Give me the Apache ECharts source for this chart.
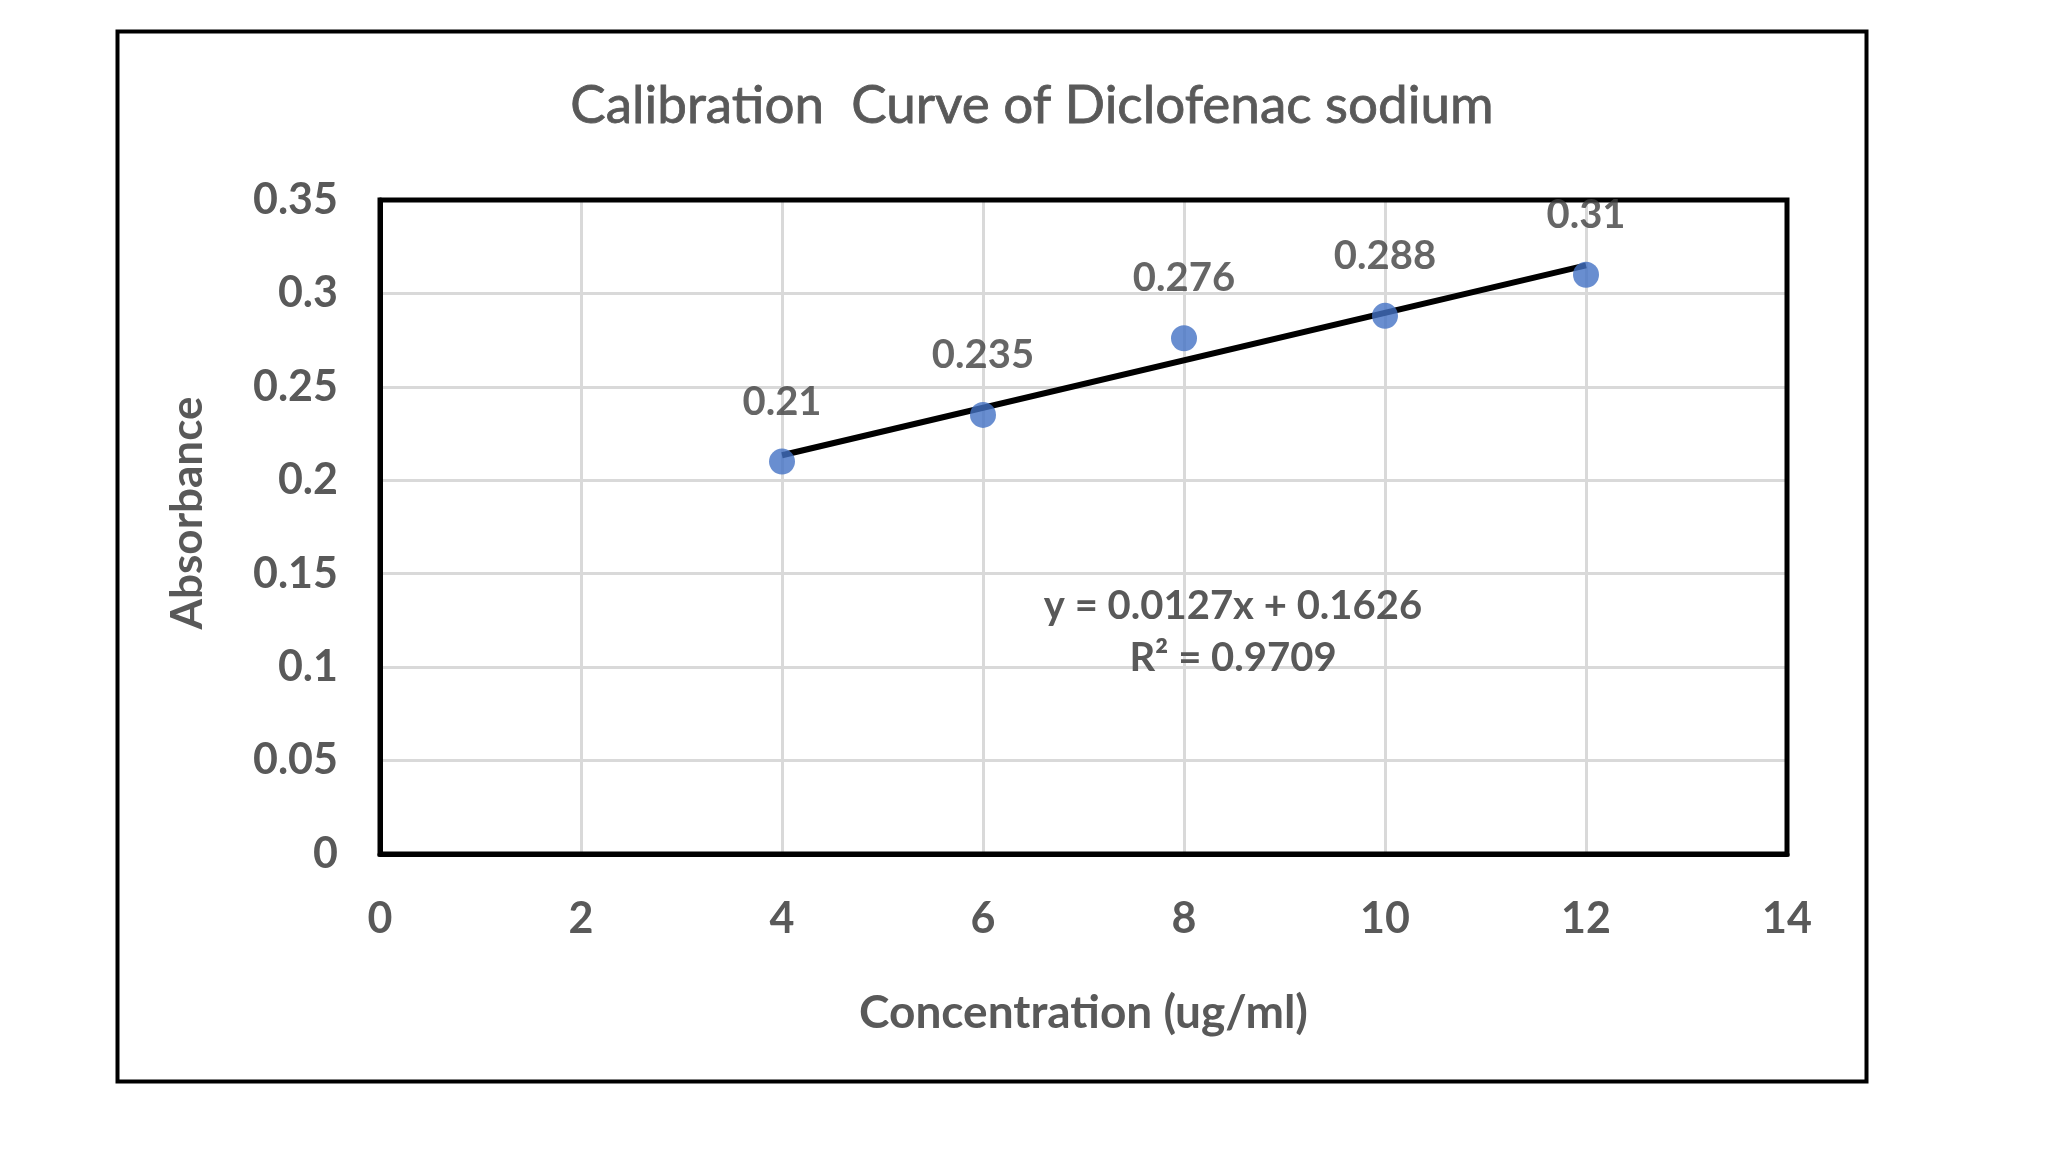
<!DOCTYPE html>
<html>
<head>
<meta charset="utf-8">
<script src="https://cdn.jsdelivr.net/npm/echarts@6/dist/echarts.min.js"></script>
<style>
html,body{margin:0;padding:0;background:#fff;}
#chart{width:2048px;height:1152px;}
</style>
</head>
<body>
<div id="chart"></div>
<script>
// ---- data ----
const concentration = [4, 6, 8, 10, 12];
const absorbance = [0.21, 0.235, 0.276, 0.288, 0.31];
const trendX = [4, 12];
const trendY = [0.2134, 0.315];
const xTickLabels = ['0','2','4','6','8','10','12','14'];
const yTickLabels = ['0','0.05','0.1','0.15','0.2','0.25','0.3','0.35'];
const titleText = 'Calibration  Curve of Diclofenac sodium';
const xAxisName = 'Concentration (ug/ml)';
const yAxisName = 'Absorbance';
const equationLines = ['y = 0.0127x + 0.1626', 'R² = 0.9709'];

const FONT = 'Lato';
const chart = echarts.init(document.getElementById('chart'));

const option = {
  backgroundColor: '#ffffff',
  animation: false,
  title: {
    text: titleText,
    left: 1027, top: 74, textAlign: 'center',
    textStyle: {fontFamily: FONT, fontSize: 53, fontWeight: 'normal', color: '#595959',
      textBorderColor: '#595959', textBorderWidth: 0.8}
  },
  grid: {
    left: 380, right: 261, top: 200, bottom: 298,
    show: false
  },
  xAxis: {
    type: 'value', min: 0, max: 14, interval: 2,
    name: xAxisName, nameLocation: 'middle', nameGap: 136,
    nameTextStyle: {fontFamily: FONT, fontSize: 46, fontWeight: 'bold', color: '#595959'},
    axisLine: {show: true, lineStyle: {color: '#000', width: 5}},
    axisTick: {show: false},
    axisLabel: {
      margin: 44, fontFamily: FONT, fontSize: 43, fontWeight: 'bold', color: '#595959',
      formatter: (v) => xTickLabels[Math.round(v / 2)]
    },
    splitLine: {show: true, lineStyle: {color: '#d9d9d9', width: 3}}
  },
  yAxis: {
    type: 'value', min: 0, max: 0.35, interval: 0.05,
    name: yAxisName, nameLocation: 'middle', nameGap: 170, nameRotate: 90,
    nameTextStyle: {fontFamily: FONT, fontSize: 44, fontWeight: 'bold', color: '#595959',
      padding: [0, 0, 0, 28]},
    axisLine: {show: true, lineStyle: {color: '#000', width: 5}},
    axisTick: {show: false},
    axisLabel: {
      margin: 42, fontFamily: FONT, fontSize: 43, fontWeight: 'bold', color: '#595959',
      formatter: (v) => yTickLabels[Math.round(v / 0.05)]
    },
    splitLine: {show: true, lineStyle: {color: '#d9d9d9', width: 3}}
  },
  series: [
    {
      type: 'line',
      data: trendX.map((x, i) => [x, trendY[i]]),
      symbol: 'none',
      lineStyle: {color: '#000', width: 6},
      z: 3,
      silent: true
    },
    {
      type: 'scatter',
      data: concentration.map((x, i) => [x, absorbance[i]]),
      symbol: 'circle', symbolSize: 26,
      itemStyle: {color: '#4472C4'},
      z: 4,
      label: {
        show: true, position: 'top', distance: 27,
        fontFamily: FONT, fontSize: 40, fontWeight: 'bold', color: '#404040',
        formatter: (p) => String(absorbance[p.dataIndex])
      }
    }
  ],
  graphic: [
    {
      type: 'rect', left: 115, top: 29,
      shape: {width: 1749, height: 1050},
      style: {fill: 'none', stroke: '#000', lineWidth: 4},
      silent: true, z: 0
    },
    {
      type: 'rect', position: [380, 200],
      shape: {x: 0, y: 0, width: 1407, height: 654},
      style: {fill: 'none', stroke: '#000', lineWidth: 5},
      silent: true, z: 2
    },
    {
      type: 'text', position: [1233, 580],
      style: {
        text: equationLines.join('\n'),
        textAlign: 'center', textVerticalAlign: 'top',
        font: 'bold 40px ' + FONT, lineHeight: 52, fill: '#595959'
      },
      silent: true, z: 10
    }
  ]
};
chart.setOption(option);
</script>
</body>
</html>
